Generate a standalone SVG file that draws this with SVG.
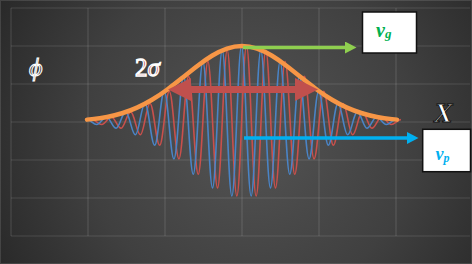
<svg xmlns="http://www.w3.org/2000/svg" xmlns:xlink="http://www.w3.org/1999/xlink" width="472" height="264" viewBox="0 0 472 264">
  <defs>
    <radialGradient id="bgGrad" cx="250" cy="135" r="300" gradientUnits="userSpaceOnUse">
      <stop offset="0" stop-color="#545454"/>
      <stop offset="0.55" stop-color="#404040"/>
      <stop offset="1" stop-color="#262626"/>
    </radialGradient>
    <path id="wavePath" d="M87.1 119.6 c3.51 0 6.14 4.9 9.65 4.9 c3.51 0 6.14 -7.5 9.65 -7.5 c3.51 0 6.14 11.2 9.65 11.2 c3.51 0 6.14 -16.3 9.65 -16.3 c3.51 0 6.14 22.9 9.65 22.9 c3.51 0 6.14 -31.3 9.65 -31.3 c3.51 0 6.14 41.7 9.65 41.7 c3.51 0 6.14 -53.9 9.65 -53.9 c3.51 0 6.14 67.6 9.65 67.6 c3.51 0 6.14 -82.5 9.65 -82.5 c3.51 0 6.14 97.9 9.65 97.9 c3.51 0 6.14 -112.8 9.65 -112.8 c3.51 0 6.14 126.4 9.65 126.4 c3.51 0 6.14 -137.7 9.65 -137.7 c3.51 0 6.14 145.7 9.65 145.7 c3.51 0 6.14 -149.9 9.65 -149.9 c3.51 0 6.14 149.9 9.65 149.9 c3.51 0 6.14 -145.7 9.65 -145.7 c3.51 0 6.14 137.7 9.65 137.7 c3.51 0 6.14 -126.4 9.65 -126.4 c3.51 0 6.14 112.8 9.65 112.8 c3.51 0 6.14 -97.9 9.65 -97.9 c3.51 0 6.14 82.5 9.65 82.5 c3.51 0 6.14 -67.6 9.65 -67.6 c3.51 0 6.14 53.9 9.65 53.9 c3.51 0 6.14 -41.7 9.65 -41.7 c3.51 0 6.14 31.3 9.65 31.3 c3.51 0 6.14 -22.9 9.65 -22.9 c3.51 0 6.14 16.3 9.65 16.3 c3.51 0 6.14 -11.2 9.65 -11.2 c3.51 0 6.14 7.5 9.65 7.5 c3.51 0 6.14 -4.9 9.65 -4.9"/>
    <marker id="headRed" markerUnits="userSpaceOnUse" markerWidth="23" markerHeight="24" refX="0" refY="11.5" orient="auto-start-reverse" viewBox="0 0 23 23">
      <path d="M0 0 L23 11.5 L0 23 Z" fill="#c0504d"/>
    </marker>
    <marker id="headGreen" markerUnits="userSpaceOnUse" markerWidth="12" markerHeight="12" refX="0" refY="6" orient="auto" viewBox="0 0 12 12">
      <path d="M0 0 L11.5 6 L0 12 Z" fill="#8fcf4f"/>
    </marker>
    <marker id="headBlue" markerUnits="userSpaceOnUse" markerWidth="12" markerHeight="12" refX="0" refY="6" orient="auto" viewBox="0 0 12 12">
      <path d="M0 0 L11.5 6 L0 12 Z" fill="#00b0f0"/>
    </marker>
  </defs>
  <style>
    .grid line { stroke: #ffffff; stroke-opacity: 0.13; stroke-width: 1.2; }
    .wave { fill: none; stroke-width: 1.6; stroke-linejoin: round; }
    .box { fill: #ffffff; stroke: #111111; stroke-width: 1.5; }
    .math { font-family: "Liberation Serif", "DejaVu Serif", serif; font-style: italic; }
  </style>

  <g id="background">
    <rect x="0" y="0" width="472" height="264" fill="url(#bgGrad)"/>
    <rect x="0.5" y="0.5" width="471" height="263" fill="none" stroke="#ffffff" stroke-opacity="0.12"/>
  </g>

  <g id="grid" class="grid">
    <line x1="11" y1="8" x2="11" y2="236"/>
    <line x1="88" y1="8" x2="88" y2="236"/>
    <line x1="165" y1="8" x2="165" y2="236"/>
    <line x1="242" y1="8" x2="242" y2="236"/>
    <line x1="319" y1="8" x2="319" y2="236"/>
    <line x1="396" y1="8" x2="396" y2="236"/>
    <line x1="11" y1="8" x2="470" y2="8"/>
    <line x1="11" y1="46" x2="470" y2="46"/>
    <line x1="11" y1="84" x2="470" y2="84"/>
    <line x1="11" y1="122" x2="470" y2="122"/>
    <line x1="11" y1="160" x2="470" y2="160"/>
    <line x1="11" y1="198" x2="470" y2="198"/>
    <line x1="11" y1="236" x2="470" y2="236"/>
  </g>

  <g id="wave-packet">
    <use xlink:href="#wavePath" href="#wavePath" class="wave" stroke="#c9504c" transform="translate(5 0)"/>
    <use xlink:href="#wavePath" href="#wavePath" class="wave" stroke="#4a84c6"/>
  </g>

  <g id="envelope">
    <path d="M87 119.63 C88.67 119.48 90.33 119.31 92 119.13 C97 118.58 102 117.88 107 116.93 C112 115.98 117 114.79 122 113.27 C127 111.75 132 109.9 137 107.66 C142 105.42 147 102.8 152 99.79 C157 96.78 162 93.4 167 89.73 C172 86.06 177 82.12 182 78.11 C187 74.1 192 70.04 197 66.21 C202 62.38 207 58.8 212 55.76 C217 52.72 222 50.25 227 48.57 C232 46.89 237 46 242 46 C247 46 252 46.89 257 48.57 C262 50.25 267 52.72 272 55.76 C277 58.8 282 62.38 287 66.21 C292 70.04 297 74.1 302 78.11 C307 82.12 312 86.06 317 89.73 C322 93.4 327 96.78 332 99.79 C337 102.8 342 105.42 347 107.66 C352 109.9 357 111.75 362 113.27 C367 114.79 372 115.98 377 116.93 C382 117.88 387 118.58 392 119.13 C393.67 119.31 395.33 119.48 397 119.63" fill="none" stroke="#f79646" stroke-width="4.5" stroke-linecap="round"/>
  </g>

  <g id="connectors">
    <line id="sigma-arrow" x1="191" y1="89.5" x2="295" y2="89.5" stroke="#c0504d" stroke-width="7" marker-start="url(#headRed)" marker-end="url(#headRed)"/>
    <line id="vg-arrow" x1="243" y1="47.5" x2="345" y2="47.5" stroke="#8fcf4f" stroke-width="3.5" marker-end="url(#headGreen)"/>
    <line id="vp-arrow" x1="244" y1="138" x2="407" y2="138" stroke="#00b0f0" stroke-width="3.5" marker-end="url(#headBlue)"/>
  </g>

  <g id="node-vg">
    <rect class="box" x="362.5" y="12" width="54" height="41"/>
    <text class="math" x="376" y="36.7" font-size="20" font-weight="bold" fill="#00b050">v<tspan font-size="13" dy="1.3">g</tspan></text>
  </g>

  <g id="node-vp">
    <rect class="box" x="422.7" y="129.3" width="47.8" height="42.4"/>
    <text class="math" x="435.5" y="160.3" font-size="18" font-weight="bold" fill="#00b0f0">v<tspan font-size="12" dy="1.5">p</tspan></text>
  </g>

  <g id="labels">
    <text id="label-phi" class="math" x="29" y="76" font-size="26" fill="#3a3a3a" stroke="#ffffff" stroke-width="1.1">ϕ</text>
    <text id="label-sigma" x="135" y="76" font-family="'Liberation Serif', 'DejaVu Serif', serif" font-size="25" fill="#c0504d" stroke="#ffffff" stroke-width="1.3">2<tspan font-style="italic">σ</tspan></text>
    <text id="label-x" class="math" x="434" y="121.5" font-size="28" font-weight="bold" fill="#ffffff" stroke="#111111" stroke-width="1">X</text>
  </g>
</svg>
